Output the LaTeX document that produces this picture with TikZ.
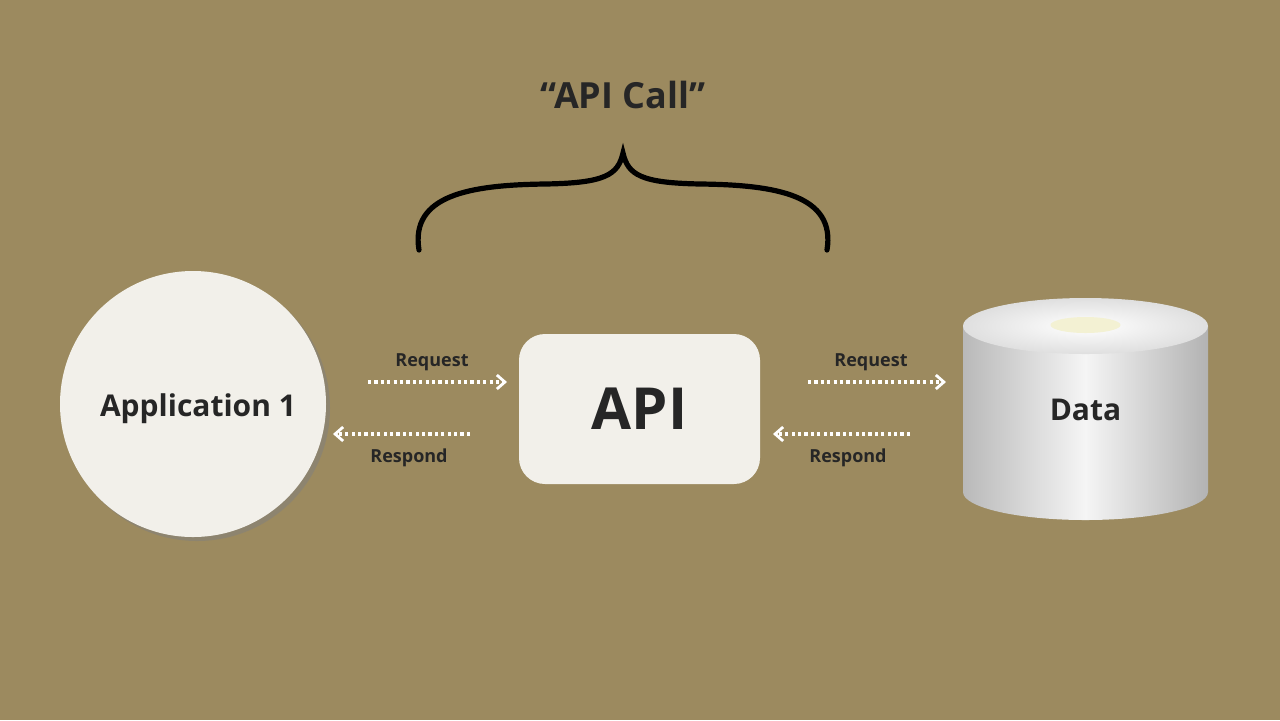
\documentclass[tikz,border=0pt]{standalone}
\usepackage{fontspec}
\setmainfont{Open Sans}
\usetikzlibrary{arrows.meta,shadows,shadings}
\definecolor{bg}{HTML}{9C8A5F}
\definecolor{paper}{HTML}{F2F0EA}
\definecolor{ink}{HTML}{262626}
\begin{document}
\begin{tikzpicture}[x=0.5pt,y=-0.5pt,
  lbl/.style={text=ink,font=\bfseries\fontsize{9}{10}\selectfont},
  flow/.style={white,line width=1.6pt,dash pattern=on 1.6pt off 1.6pt,-{Straight Barb[length=4pt,width=7pt,line width=1.4pt]}}]
\fill[bg] (0,0) rectangle (1280,720);
\useasboundingbox (0,0) rectangle (1280,720);
% application circle
\node[circle,minimum size=133pt,fill=paper,drop shadow={shadow xshift=2pt,shadow yshift=-2pt,opacity=0.5}] (app) at (193,404) {};
\node[text=ink,font=\bfseries\fontsize{15}{18}\selectfont] (apptxt) at (198,409) {Application 1};
% API box
\node[rounded corners=13pt,minimum width=120.5pt,minimum height=75pt,fill=paper,text=ink,font=\bfseries\fontsize{29}{32}\selectfont] (api) at (639.5,409) {API};
% cylinder
\shade[left color=gray!55!white,right color=gray!60!white,middle color=white!92!gray] (963,326) -- (963,492) arc[start angle=180,end angle=0,x radius=122.5,y radius=28] -- (1208,326) -- cycle;
\shade[inner color=white,outer color=gray!25!white] (1085.5,326) ellipse[x radius=122.5,y radius=28];
\fill[paper!90!yellow] (1085.5,325) ellipse[x radius=35,y radius=8];
\node[text=ink,font=\bfseries\fontsize{15}{18}\selectfont] (data) at (1085.5,410) {Data};
% arrows
\coordinate (a1) at (368,382); \coordinate (a2) at (507,382);
\coordinate (b1) at (470,434); \coordinate (b2) at (333,434);
\coordinate (c1) at (808,382); \coordinate (c2) at (946,382);
\coordinate (d1) at (910,434); \coordinate (d2) at (773,434);
\draw[flow] (a1) -- (a2);
\draw[flow] (b1) -- (b2);
\draw[flow] (c1) -- (c2);
\draw[flow] (d1) -- (d2);
\node[lbl] (r1) at (432,362) {Request};
\node[lbl] (s1) at (409,458) {Respond};
\node[lbl] (r2) at (871,362) {Request};
\node[lbl] (s2) at (848,458) {Respond};
% brace
\draw[black,line width=2.6pt,line cap=round]
 (419,250) .. controls (410,195) and (470,185) .. (545,184)
 .. controls (605,183) and (618,175) .. (623,153)
 .. controls (628,175) and (641,183) .. (701,184)
 .. controls (776,185) and (836,195) .. (827,250);
\node[text=ink,font=\bfseries\fontsize{18}{22}\selectfont] (call) at (623,95) {“API Call”};
\end{tikzpicture}
\end{document}
